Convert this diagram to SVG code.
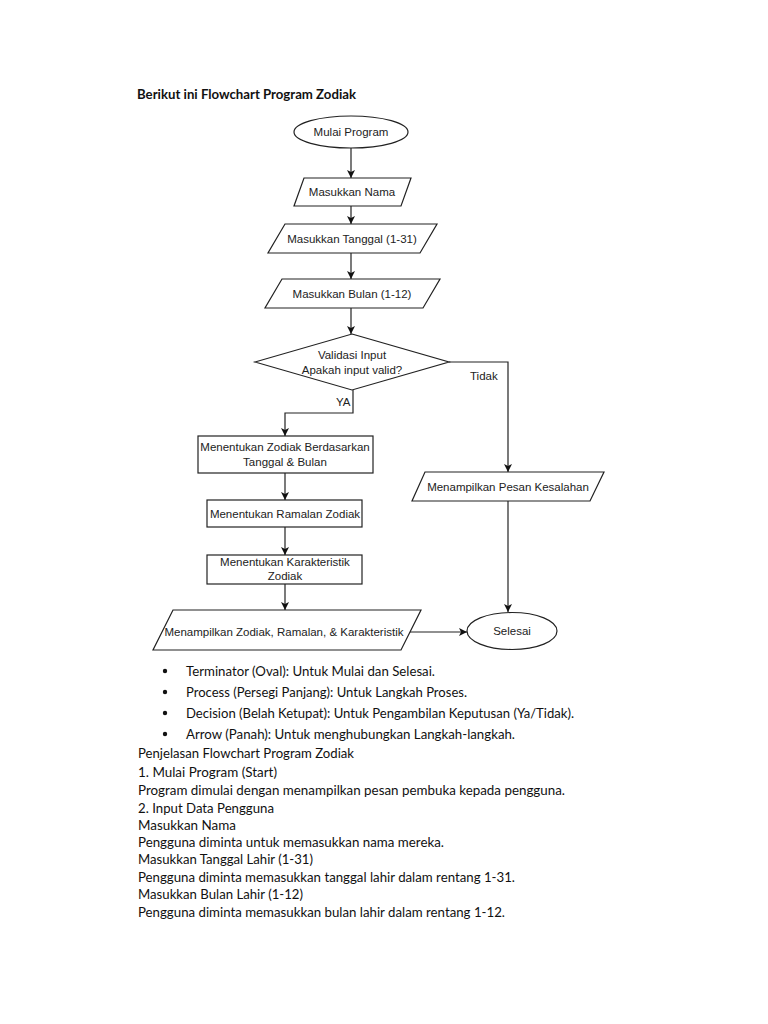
<svg xmlns="http://www.w3.org/2000/svg" width="768" height="1024" viewBox="0 0 768 1024">
<defs>
<marker id="ah" viewBox="0 0 10 10" refX="10" refY="5" markerWidth="8" markerHeight="8" markerUnits="userSpaceOnUse" orient="auto">
<path d="M0,0 L10,5 L0,10 L2.5,5 z" fill="#111"/>
</marker>
<style>
.shape{fill:#fff;stroke:#222;stroke-width:1.2}
.fc{font-family:"Liberation Sans",Arial,sans-serif;font-size:11.5px;fill:#222;text-anchor:middle}
.lbl{font-family:"Liberation Sans",Arial,sans-serif;font-size:11.5px;fill:#222}
.doc{font-family:Lato,"Open Sans",sans-serif;font-size:13.8px;fill:#111}
.conn{fill:none;stroke:#222;stroke-width:1.2}
</style>
</defs>
<rect width="768" height="1024" fill="#fff"/>
<text class="doc" x="137" y="99" font-weight="bold" textLength="219" lengthAdjust="spacingAndGlyphs">Berikut ini Flowchart Program Zodiak</text>

<g id="connectors">
<path class="conn" d="M351,148 V178" marker-end="url(#ah)"/>
<path class="conn" d="M351,206 V224" marker-end="url(#ah)"/>
<path class="conn" d="M351,253 V279" marker-end="url(#ah)"/>
<path class="conn" d="M351,308 V334" marker-end="url(#ah)"/>
<path class="conn" d="M353,390 V413 H285 V436" marker-end="url(#ah)"/>
<path class="conn" d="M449,362 H508 V472" marker-end="url(#ah)"/>
<path class="conn" d="M285,473 V500" marker-end="url(#ah)"/>
<path class="conn" d="M285,527 V555" marker-end="url(#ah)"/>
<path class="conn" d="M285,584 V610" marker-end="url(#ah)"/>
<path class="conn" d="M508,501 V612" marker-end="url(#ah)"/>
<path class="conn" d="M410,632 H467" marker-end="url(#ah)"/>
<text class="lbl" x="336" y="406">YA</text>
<text class="lbl" x="470" y="380">Tidak</text>
</g>

<g id="start">
<ellipse class="shape" cx="351" cy="132" rx="57" ry="16"/>
<text class="fc" x="351" y="136">Mulai Program</text>
</g>
<g id="nama">
<polygon class="shape" points="304,178 411,178 401,206 294,206"/>
<text class="fc" x="352" y="196">Masukkan Nama</text>
</g>
<g id="tanggal">
<polygon class="shape" points="285,224 437,224 420,253 268,253"/>
<text class="fc" x="352" y="243">Masukkan Tanggal (1-31)</text>
</g>
<g id="bulan">
<polygon class="shape" points="282,279 440,279 423,308 265,308"/>
<text class="fc" x="352" y="298">Masukkan Bulan (1-12)</text>
</g>
<g id="validasi">
<polygon class="shape" points="352,334 449,362 352,390 255,362"/>
<text class="fc" x="352" y="359">Validasi Input</text>
<text class="fc" x="352" y="374">Apakah input valid?</text>
</g>
<g id="zodiak">
<rect class="shape" x="198" y="436" width="175" height="37"/>
<text class="fc" x="285" y="451">Menentukan Zodiak Berdasarkan</text>
<text class="fc" x="285" y="466">Tanggal &amp; Bulan</text>
</g>
<g id="ramalan">
<rect class="shape" x="207" y="500" width="155" height="27"/>
<text class="fc" x="285" y="518">Menentukan Ramalan Zodiak</text>
</g>
<g id="karakteristik">
<rect class="shape" x="207" y="555" width="155" height="29"/>
<text class="fc" x="285" y="566">Menentukan Karakteristik</text>
<text class="fc" x="285" y="580">Zodiak</text>
</g>
<g id="tampil">
<polygon class="shape" points="173,610 421,610 401,650 153,650"/>
<text class="fc" x="284" y="636">Menampilkan Zodiak, Ramalan, &amp; Karakteristik</text>
</g>
<g id="error">
<polygon class="shape" points="425,472 604,472 590,501 412,501"/>
<text class="fc" x="508" y="491">Menampilkan Pesan Kesalahan</text>
</g>
<g id="selesai">
<ellipse class="shape" cx="512" cy="631" rx="45" ry="18.5"/>
<text class="fc" x="512" y="635">Selesai</text>
</g>

<g id="bullets">
<circle cx="165" cy="671" r="2.2" fill="#111"/>
<circle cx="165" cy="692" r="2.2" fill="#111"/>
<circle cx="165" cy="713" r="2.2" fill="#111"/>
<circle cx="165" cy="734" r="2.2" fill="#111"/>
<text class="doc" x="186" y="676" textLength="249" lengthAdjust="spacingAndGlyphs">Terminator (Oval): Untuk Mulai dan Selesai.</text>
<text class="doc" x="186" y="697" textLength="281" lengthAdjust="spacingAndGlyphs">Process (Persegi Panjang): Untuk Langkah Proses.</text>
<text class="doc" x="186" y="718" textLength="388" lengthAdjust="spacingAndGlyphs">Decision (Belah Ketupat): Untuk Pengambilan Keputusan (Ya/Tidak).</text>
<text class="doc" x="186" y="739" textLength="329" lengthAdjust="spacingAndGlyphs">Arrow (Panah): Untuk menghubungkan Langkah-langkah.</text>
</g>
<g id="penjelasan">
<text class="doc" x="138" y="758" textLength="216" lengthAdjust="spacingAndGlyphs">Penjelasan Flowchart Program Zodiak</text>
<text class="doc" x="138" y="777" textLength="139" lengthAdjust="spacingAndGlyphs">1. Mulai Program (Start)</text>
<text class="doc" x="138" y="795" textLength="427" lengthAdjust="spacingAndGlyphs">Program dimulai dengan menampilkan pesan pembuka kepada pengguna.</text>
<text class="doc" x="138" y="813" textLength="136" lengthAdjust="spacingAndGlyphs">2. Input Data Pengguna</text>
<text class="doc" x="138" y="830" textLength="98" lengthAdjust="spacingAndGlyphs">Masukkan Nama</text>
<text class="doc" x="138" y="847" textLength="306" lengthAdjust="spacingAndGlyphs">Pengguna diminta untuk memasukkan nama mereka.</text>
<text class="doc" x="138" y="864" textLength="175" lengthAdjust="spacingAndGlyphs">Masukkan Tanggal Lahir (1-31)</text>
<text class="doc" x="138" y="882" textLength="377" lengthAdjust="spacingAndGlyphs">Pengguna diminta memasukkan tanggal lahir dalam rentang 1-31.</text>
<text class="doc" x="138" y="899" textLength="165" lengthAdjust="spacingAndGlyphs">Masukkan Bulan Lahir (1-12)</text>
<text class="doc" x="138" y="917" textLength="367" lengthAdjust="spacingAndGlyphs">Pengguna diminta memasukkan bulan lahir dalam rentang 1-12.</text>
</g>
</svg>
